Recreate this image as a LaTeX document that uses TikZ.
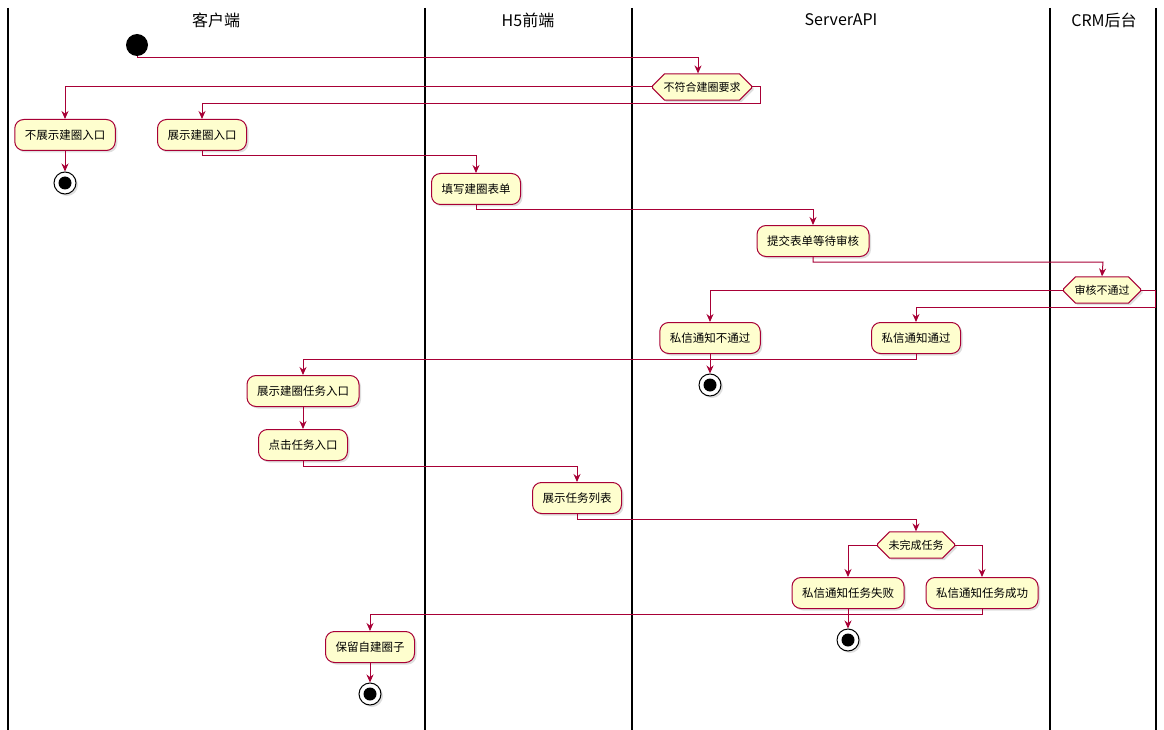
\documentclass[tikz,border=0pt]{standalone}
\usepackage{fontspec}
\setmainfont{Noto Sans CJK SC}
\usetikzlibrary{arrows.meta,shapes.misc,shapes.geometric,shadows}
\definecolor{pr}{HTML}{A80036}
\definecolor{pf}{HTML}{FEFECE}
\begin{document}
\begin{tikzpicture}[x=1pt,y=-1pt,
 act/.style={draw=pr,fill=pf,line width=1pt,rounded corners=9pt,minimum height=31pt,inner xsep=10pt,font=\fontsize{11.5}{13}\selectfont,drop shadow={shadow xshift=2pt,shadow yshift=-2pt,opacity=0.25}},
 dec/.style={draw=pr,fill=pf,line width=1pt,chamfered rectangle,chamfered rectangle xsep=2cm,chamfered rectangle sep=6pt,minimum height=23pt,inner sep=2pt,inner xsep=5pt,font=\fontsize{11}{12}\selectfont,drop shadow={shadow xshift=2pt,shadow yshift=-2pt,opacity=0.25}},
 stt/.style={circle,fill=black,minimum size=22pt,inner sep=0},
 fin/.style={circle,draw=black,fill=white,line width=1pt,minimum size=22pt,inner sep=0,path picture={\fill[black] (path picture bounding box.center) circle (6.5pt);},drop shadow={shadow xshift=2pt,shadow yshift=-2pt,opacity=0.25}},
 ar/.style={draw=pr,line width=1pt,-{Stealth[length=8pt,width=7pt]}},
 lane/.style={line width=1.6pt,black},
 hd/.style={font=\fontsize{16}{18}\selectfont}]
\useasboundingbox (0,0) rectangle (1164,730);
\fill[white] (0,0) rectangle (1164,730);
\foreach \x in {8,425,632,1050,1156} \draw[lane] (\x,8) -- (\x,730);
\node[hd] (h1) at (216,20) {客户端};
\node[hd] (h2) at (528,20) {H5前端};
\node[hd] (h3) at (841,20) {ServerAPI};
\node[hd] (h4) at (1104,20) {CRM后台};

\node[stt] (s) at (137,45) {};
\node[dec] (d1) at (702,87) {不符合建圈要求};
\node[act] (a1) at (65,135) {不展示建圈入口};
\node[act] (a2) at (202,135) {展示建圈入口};
\node[fin] (e1) at (65,183) {};
\node[act] (a3) at (476,189) {填写建圈表单};
\node[act] (a4) at (813,241) {提交表单等待审核};
\node[dec] (d2) at (1102,290) {审核不通过};
\node[act] (a5) at (710,338) {私信通知不通过};
\node[act] (a6) at (916,338) {私信通知通过};
\node[fin] (e2) at (710,385) {};
\node[act] (a7) at (303,391) {展示建圈任务入口};
\node[act] (a8) at (303,445) {点击任务入口};
\node[act] (a9) at (577,498) {展示任务列表};
\node[dec] (d3) at (916,545) {未完成任务};
\node[act] (a10) at (848,593) {私信通知任务失败};
\node[act] (a11) at (982,593) {私信通知任务成功};
\node[fin] (e3) at (848,640) {};
\node[act] (a12) at (370,647) {保留自建圈子};
\node[fin] (e4) at (370,694) {};

\draw[ar] (s.south) |- (698,58) -- (d1.north -| 698,0);
\draw[ar] (d1.west) -| (a1.north);
\draw[ar] (d1.east) -- (760,87) |- (202,104) -- (a2.north);
\draw[ar] (a1) -- (e1);
\draw[ar] (a2.south) |- (476,156) -- (a3.north);
\draw[ar] (a3.south) |- (813,210) -- (a4.north);
\draw[ar] (a4.south) |- (1103,262) -- (d2.north);
\draw[ar] (d2.west) -| (a5.north);
\draw[ar] (d2.east) -- (1155,290) |- (916,307) -- (a6.north);
\draw[ar] (a5) -- (e2);
\draw[ar] (a6.south) |- (303,359) -- (a7.north);
\draw[ar] (a7) -- (a8);
\draw[ar] (a8.south) |- (577,466) -- (a9.north);
\draw[ar] (a9.south) |- (916,519) -- (d3.north);
\draw[ar] (d3.west) -| (a10.north);
\draw[ar] (d3.east) -| (a11.north);
\draw[ar] (a10) -- (e3);
\draw[ar] (a11.south) |- (370,614) -- (a12.north);
\draw[ar] (a12) -- (e4);
\end{tikzpicture}
\end{document}
